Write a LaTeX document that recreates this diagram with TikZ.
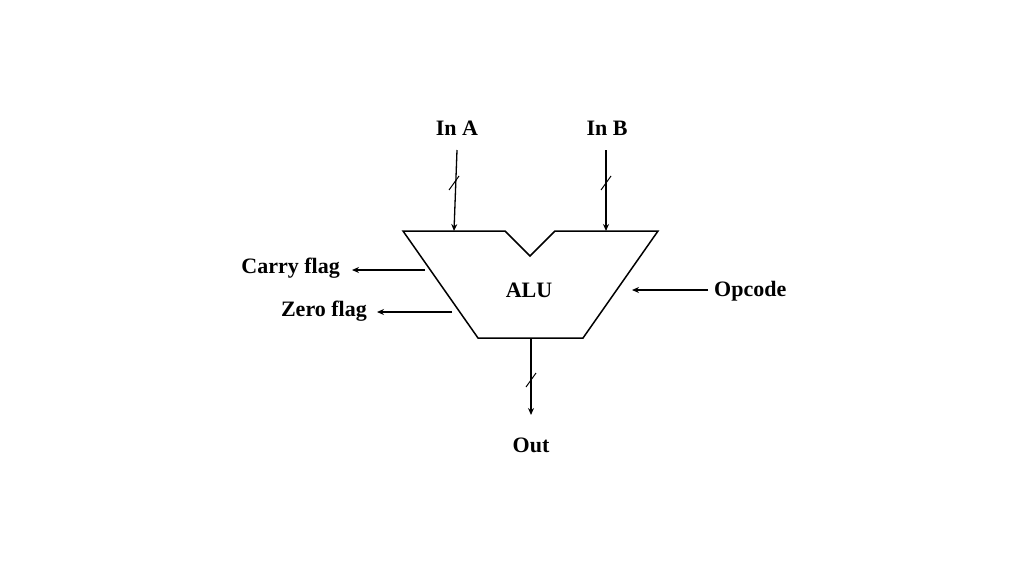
\documentclass[tikz,border=0pt]{standalone}
\usepackage{fontspec}
\setmainfont{Liberation Serif}
\usetikzlibrary{arrows.meta}
\begin{document}
\begin{tikzpicture}[x=1pt,y=-1pt,
  wire/.style={line width=1.3pt,-{Stealth[length=7pt,width=6pt]}},
  lbl/.style={font=\bfseries\fontsize{22}{24}\selectfont,inner sep=0pt},
  slash/.style={line width=1pt}]
\useasboundingbox (0,0) rectangle (1024,576);
\draw[line width=1.5pt,line join=miter] (403,231) -- (505,231) -- (530,256) -- (555,231) -- (658,231) -- (583,338) -- (478,338) -- cycle;
\node[lbl] (alu) at (529,290) {ALU};
\node[lbl] (ina) at (457,128) {In A};
\node[lbl] (inb) at (607,128) {In B};
\node[lbl] (out) at (531,445) {Out};
\node[lbl,anchor=west] (op) at (714,291) {Opcode};
\node[lbl,anchor=east] (cf) at (340,268) {Carry flag};
\node[lbl,anchor=east] (zf) at (367,311) {Zero flag};
\coordinate (aend) at (454,231);
\coordinate (bend) at (606,231);
\coordinate (obeg) at (531,338);
\coordinate (opend) at (632,290);
\coordinate (cfb) at (425,270);
\coordinate (zfb) at (452,312);
\draw[wire] (ina.south |- 0,150) -- (aend);
\draw[wire] (606,150) -- (bend);
\draw[wire] (obeg) -- (531,415);
\draw[wire] (708,290) -- (opend);
\draw[wire] (cfb) -- (352,270);
\draw[wire] (zfb) -- (377,312);
\draw[slash] (449,190) -- (459,176);
\draw[slash] (601,190) -- (611,176);
\draw[slash] (526,387) -- (536,373);
\end{tikzpicture}
\end{document}
